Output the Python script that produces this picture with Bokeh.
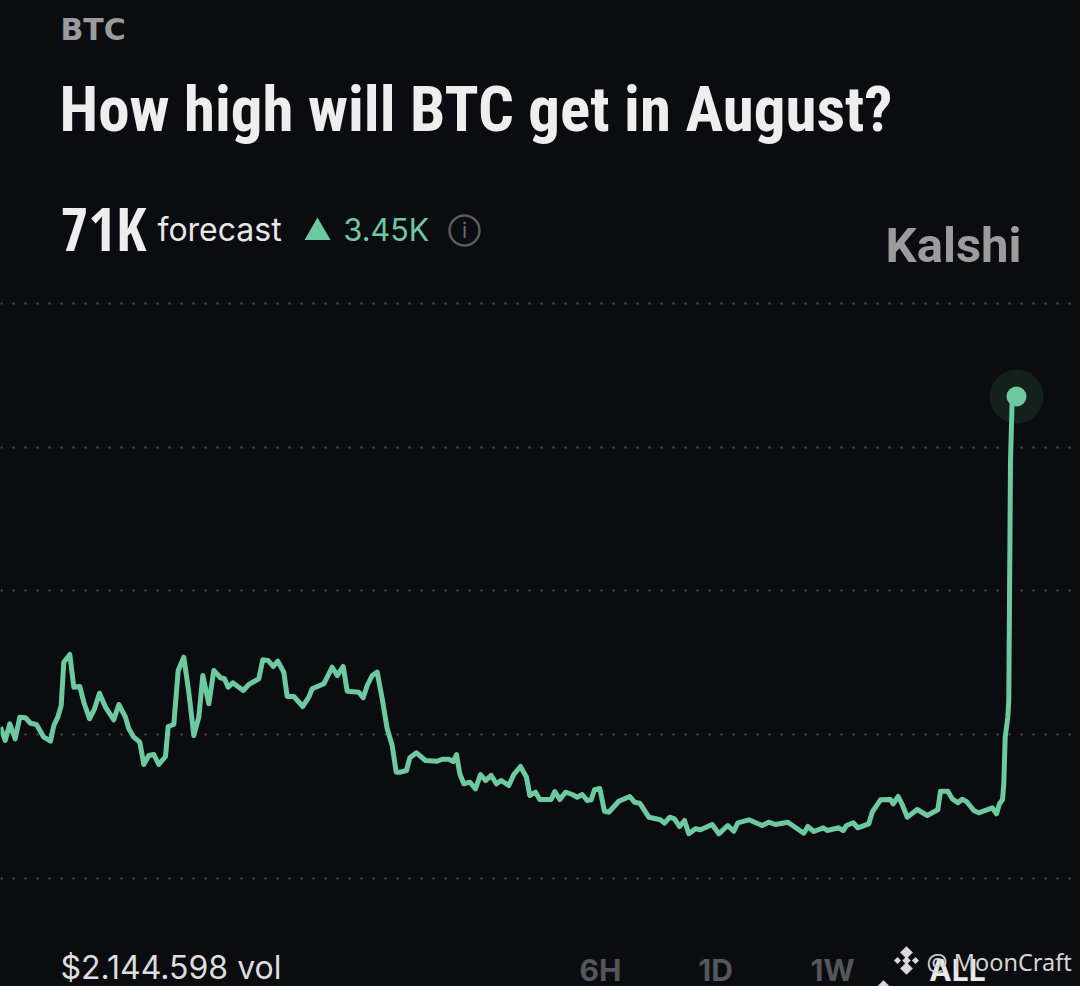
from bokeh.plotting import figure
from bokeh.models import Label, FixedTicker, Range1d
from bokeh.embed import file_html
from bokeh.resources import INLINE

# Series: time position and level above the lowest gridline
time_pos = [0,4.7,9.3,14.7,19.3,25,30,36,43.3,50,53.3,57.3,60.7,63.3,69.3,73.3,79.3,83.3,89,94,99,105,113.3,118.3,125,128.3,133.3,139.3,143.3,148.3,153.3,158.3,165,167.7,173.3,177.7,183.3,188.3,193.3,198.3,202.3,208.3,213.3,220,224,227.7,232.3,242.7,248.3,258.3,262.3,267.7,272.7,277.3,283.3,286.7,293.3,302.3,308.3,311.7,323.3,331.7,336.7,342.7,346.7,358.3,362.7,366.7,371.7,376.7,381.7,386.7,391.7,395.7,400,
    406,409.3,416,425,436.7,441.7,448.3,452.7,456,459.3,463.3,469.3,475,480,485,490.7,496,500.7,508.3,513.3,520,526,529.3,535,539.3,550.7,554.3,559.3,565,571.7,576.7,581.7,586.7,590.7,594,599.3,604,608.3,618.3,629.3,634,639.3,648.3,660,664,669.3,674,679,684,688.3,695,700,
    711.7,718.3,727.3,733.3,737.3,748.3,761.7,768.3,775,787.3,795,803.3,807.3,813.3,822.7,826.7,838.3,842.7,846,852.7,857.3,868.3,871.7,880,890,892.7,897.7,901.7,906.7,916.7,926.7,937.3,940,947.3,951.7,957.3,961.7,966.7,973.3,978.3,991.7,996,999,1002,1003.3,1004.7,1007.3,1008.3,1010,1011.5,1016]
level = [151.3,138,154.7,139.7,161.3,160.7,155.3,154,141.3,137.3,153,161.3,173,216.3,224,191.3,192,176.3,159.7,169.7,185.3,171.3,158.7,174,161.3,149.7,141.3,136.3,114,123,124,114,122,152,154,208,221.3,186.3,143,161.3,203,174.7,208,200.7,199.7,191.3,195.7,188,194,199.7,218.7,218,212,217.3,206.3,182,182,172,181.3,189.7,194.7,211.3,203,212,187.3,186.3,180.7,193,203,206.3,179.7,149.7,133,106.3,106.3,
    108,120.7,125.7,118,117.3,119.3,119.3,117,124,104.7,94.7,96.3,89.7,104,98,103,94.7,98,93,104,112,101.3,83,86.3,79,79,87,79,86.3,84,81.3,84,78,78.7,88.7,90,67.3,66.3,77.3,82,76.3,75.3,61.3,58.7,55.3,61.3,59.7,52,58,44.7,49.7,48.7,
    54,44.7,53,47.3,55.7,58.7,53,56.3,54,56.3,51,45.3,52,47,50.7,48,50.7,48,53,55.7,50.7,54.7,66.3,78.7,79,74.7,82,74,61.3,69,63,68.7,87.3,87.3,79.7,75.7,79.3,76.3,68,65.7,70.7,64.7,74.7,78.7,94.7,141.3,161.3,178,418,473,482]
grid_levels = [0,144,288,431,575]
range_labels = ["6H","1D","1W","ALL"]

BG = "#0b0c10"
GREEN = "#6cc9a0"
W, H = 1080, 986

p = figure(width=W, height=H, output_backend="svg", toolbar_location=None,
           x_range=Range1d(0, W), y_range=Range1d(878-H, 878),
           background_fill_color=BG, border_fill_color=BG, min_border=0)
p.outline_line_color = None
p.xgrid.visible = False
p.yaxis.ticker = FixedTicker(ticks=grid_levels)
p.xaxis.visible = False
p.yaxis.visible = False
p.ygrid.grid_line_color = "#505155"
p.ygrid.grid_line_width = 2
p.ygrid.grid_line_dash = "2 10"

p.line(time_pos, level, line_color=GREEN, line_width=5, line_join="round")
p.circle([time_pos[-1]], [level[-1]], radius=27, fill_color="#13201c", line_color=None, level="underlay")
p.circle([time_pos[-1]], [level[-1]], radius=10, fill_color=GREEN, line_color=None)

def lab(text, x, py, size, color, font="Inter", style="normal", align="left"):
    p.add_layout(Label(x=x, y=H-py, x_units="screen", y_units="screen", text=text,
                       text_font=font, text_font_size=f"{size}px", text_color=color,
                       text_font_style=style, text_align=align, text_baseline="middle"))

lab("BTC", 60, 29, 30, "#9a9b9e", "DejaVu Sans", "bold")
lab("How high will BTC get in August?", 59, 109, 63, "#eeeeee", "Roboto Condensed", "bold")
lab("71K", 60, 227, 60, "#eeeeee", "Open Sans Condensed", "bold")
lab("forecast", 157, 229, 32, "#e6e6e6", "Inter", "normal")
p.scatter([317], [878-232], marker="triangle", size=26, fill_color=GREEN, line_color=None)
lab("3.45K", 343, 229, 30.5, GREEN, "Inter", "normal")
p.circle([464], [878-230], radius=15, fill_color=None, line_color="#5a5b5e", line_width=2.5)
lab("i", 464, 230, 21, "#6a6b6e", "Inter", "normal", "center")
lab("Kalshi", 1021, 245, 49, "#9c9c9c", "Roboto", "bold", "right")

lab("$2.144.598 vol", 60, 967, 32, "#dddddd", "Inter", "normal")
for t, x, c in zip(range_labels, [600, 715, 832, 957], ["#55565a"]*3 + ["#e8e8e8"]):
    lab(t, x, 969, 30, c, "Inter", "bold", "center")

dx = [906, 897, 915, 906, 906, 883]
dy = [960, 960, 960, 952, 968, 986]
p.scatter(dx, [878-v for v in dy], marker="square", angle=0.785, size=[6,5,5,9,9,9], fill_color="#d9d9d9", line_color=None)
lab("@ MoonCraft", 926, 961, 23.5, "#d5d5d5", "Noto Sans", "normal")

html = file_html(p, INLINE)
html = html.replace("</head>", f"<style>html,body{{margin:0;padding:0;background:{BG};overflow:hidden}}</style></head>", 1)
open("out.html", "w").write(html)
